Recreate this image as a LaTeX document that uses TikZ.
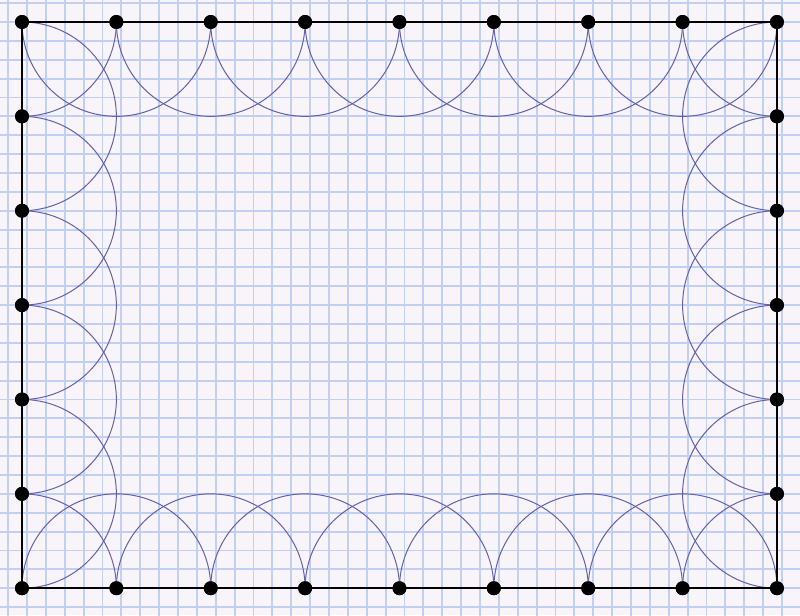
\documentclass[tikz,border=0pt]{standalone}
\usepackage{tikz}
\usetikzlibrary{positioning}
\definecolor{paper}{RGB}{248,244,249}
\definecolor{gridblue}{RGB}{192,208,242}
\definecolor{arcblue}{RGB}{98,98,170}
\tikzset{
 dot/.style={circle,fill=black,inner sep=0pt,minimum size=8.4pt},
 bow/.style={draw=arcblue,line width=0.6pt},
 frame/.style={draw=black,line width=1.5pt}
}

\begin{document}
\begin{tikzpicture}[x=2cm,y=2cm]

\path[fill=paper,use as bounding box] (-0.233,-0.284) rectangle (8.244,6.233);
\begin{scope}
\clip (-0.233,-0.284) rectangle (8.244,6.233);
\draw[gridblue,line width=1.1pt,xshift=0.106cm,step=0.4cm] (-0.4,-0.4) grid (8.6,6.4);
\end{scope}

% top row
\path (0,6) node[dot,name=t0] {};
\path (1,6) node[dot,name=t1] {};
\path (2,6) node[dot,name=t2] {};
\path (3,6) node[dot,name=t3] {};
\path (4,6) node[dot,name=t4] {};
\path (5,6) node[dot,name=t5] {};
\path (6,6) node[dot,name=t6] {};
\path (7,6) node[dot,name=t7] {};
\path (8,6) node[dot,name=t8] {};
% bottom row
\path (0,0) node[dot,name=b0] {};
\path (1,0) node[dot,name=b1] {};
\path (2,0) node[dot,name=b2] {};
\path (3,0) node[dot,name=b3] {};
\path (4,0) node[dot,name=b4] {};
\path (5,0) node[dot,name=b5] {};
\path (6,0) node[dot,name=b6] {};
\path (7,0) node[dot,name=b7] {};
\path (8,0) node[dot,name=b8] {};
% sides
\path (0,1) node[dot,name=l1] {};
\path (0,2) node[dot,name=l2] {};
\path (0,3) node[dot,name=l3] {};
\path (0,4) node[dot,name=l4] {};
\path (0,5) node[dot,name=l5] {};
\path (8,1) node[dot,name=r1] {};
\path (8,2) node[dot,name=r2] {};
\path (8,3) node[dot,name=r3] {};
\path (8,4) node[dot,name=r4] {};
\path (8,5) node[dot,name=r5] {};

% top bows
\draw[bow] (t0.center) arc[start angle=180,end angle=360,radius=2cm];
\draw[bow] (t1.center) arc[start angle=180,end angle=360,radius=2cm];
\draw[bow] (t2.center) arc[start angle=180,end angle=360,radius=2cm];
\draw[bow] (t3.center) arc[start angle=180,end angle=360,radius=2cm];
\draw[bow] (t4.center) arc[start angle=180,end angle=360,radius=2cm];
\draw[bow] (t5.center) arc[start angle=180,end angle=360,radius=2cm];
\draw[bow] (t6.center) arc[start angle=180,end angle=360,radius=2cm];
% bottom bows
\draw[bow] (b0.center) arc[start angle=180,end angle=0,radius=2cm];
\draw[bow] (b1.center) arc[start angle=180,end angle=0,radius=2cm];
\draw[bow] (b2.center) arc[start angle=180,end angle=0,radius=2cm];
\draw[bow] (b3.center) arc[start angle=180,end angle=0,radius=2cm];
\draw[bow] (b4.center) arc[start angle=180,end angle=0,radius=2cm];
\draw[bow] (b5.center) arc[start angle=180,end angle=0,radius=2cm];
\draw[bow] (b6.center) arc[start angle=180,end angle=0,radius=2cm];
% left bows
\draw[bow] (b0.center) arc[start angle=-90,end angle=90,radius=2cm];
\draw[bow] (l1.center) arc[start angle=-90,end angle=90,radius=2cm];
\draw[bow] (l2.center) arc[start angle=-90,end angle=90,radius=2cm];
\draw[bow] (l3.center) arc[start angle=-90,end angle=90,radius=2cm];
\draw[bow] (l4.center) arc[start angle=-90,end angle=90,radius=2cm];
% right bows
\draw[bow] (b8.center) arc[start angle=-90,end angle=-270,radius=2cm];
\draw[bow] (r1.center) arc[start angle=-90,end angle=-270,radius=2cm];
\draw[bow] (r2.center) arc[start angle=-90,end angle=-270,radius=2cm];
\draw[bow] (r3.center) arc[start angle=-90,end angle=-270,radius=2cm];
\draw[bow] (r4.center) arc[start angle=-90,end angle=-270,radius=2cm];
% corner quarters
\draw[bow] (t1.center) arc[start angle=0,end angle=-90,radius=2cm];
\draw[bow] (t7.center) arc[start angle=180,end angle=270,radius=2cm];
\draw[bow] (b1.center) arc[start angle=0,end angle=90,radius=2cm];
\draw[bow] (b7.center) arc[start angle=180,end angle=90,radius=2cm];

\draw[frame] (t0.center) -- (t8.center) -- (b8.center) -- (b0.center) -- cycle;

% dots again on top
\foreach \n in {t0,t1,t2,t3,t4,t5,t6,t7,t8,b0,b1,b2,b3,b4,b5,b6,b7,b8,l1,l2,l3,l4,l5,r1,r2,r3,r4,r5}
  \fill (\n.center) circle[radius=4.2pt];

\end{tikzpicture}
\end{document}
